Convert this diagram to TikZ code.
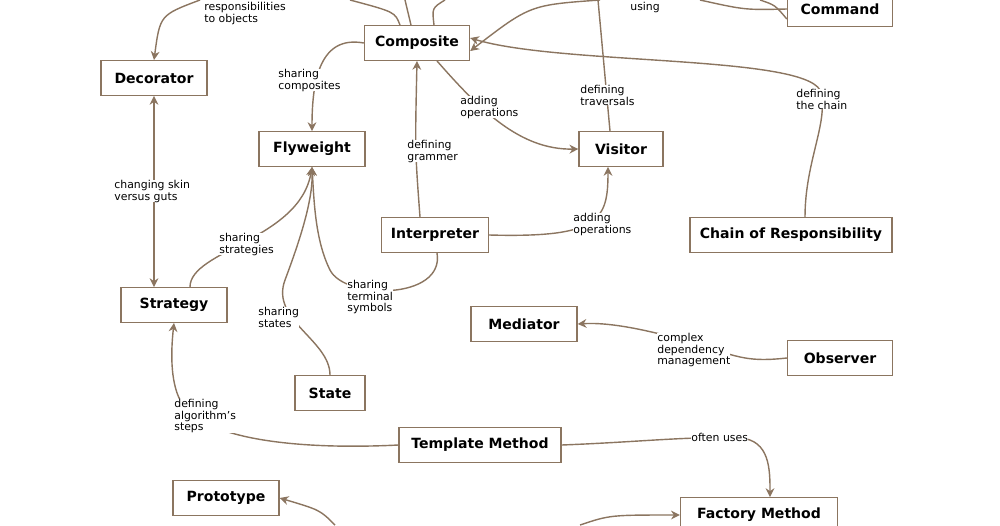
\documentclass[tikz,border=0pt]{standalone}
\usepackage{fontspec}
\setmainfont{DejaVu Sans}
\usetikzlibrary{arrows.meta}
\definecolor{edge}{HTML}{8B7560}
\begin{document}
\begin{tikzpicture}[x=0.02cm,y=-0.02cm,
  pat/.style={draw=edge,thick,fill=white,font=\fontsize{8}{9}\selectfont\bfseries,minimum height=0.69cm,inner sep=0pt},
  lab/.style={font=\fontsize{6.2}{6.6}\selectfont,align=left,anchor=north west,inner sep=0pt},
  con/.style={draw=edge,thick,-{Stealth[length=5pt,width=5pt]}},
  lin/.style={draw=edge,thick}]
\useasboundingbox (0,0) rectangle (1000,525);
% patterns
\node[pat,minimum width=2.1cm] (command) at (840,9) {Command};
\node[pat,minimum width=2.1cm] (composite) at (417,43) {Composite};
\node[pat,minimum width=2.12cm] (decorator) at (154,78) {Decorator};
\node[pat,minimum width=2.12cm] (flyweight) at (312,149) {Flyweight};
\node[pat,minimum width=1.68cm] (visitor) at (621,149) {Visitor};
\node[pat,minimum width=2.14cm] (interpreter) at (435,235) {Interpreter};
\node[pat,minimum width=4.04cm] (chain) at (791,235) {Chain of Responsibility};
\node[pat,minimum width=2.12cm] (strategy) at (174,305) {Strategy};
\node[pat,minimum width=2.12cm] (mediator) at (524,324) {Mediator};
\node[pat,minimum width=2.1cm] (observer) at (840,358) {Observer};
\node[pat,minimum width=1.4cm] (state) at (330,393) {State};
\node[pat,minimum width=3.24cm] (template) at (480,445) {Template Method};
\node[pat,minimum width=2.12cm] (prototype) at (226,498) {Prototype};
\node[pat,minimum width=3.14cm] (factory) at (759,515) {Factory Method};
% free ends at the cut edges
\coordinate (t1) at (200,0);
\coordinate (t2) at (350,0);
\coordinate (t3) at (405,0);
\coordinate (t4) at (445,0);
\coordinate (t5) at (600,0);
\coordinate (t6) at (598,0);
\coordinate (t7) at (700,0);
\coordinate (t8) at (760,0);
\coordinate (b1) at (335,525);
\coordinate (b2) at (580,525);
% connectors
\draw[con] (t1) .. controls (160,15) .. (decorator.north);
\draw[lin] (composite.north -| 400,0) .. controls (395,12) .. (t2);
\draw[lin] (composite.north -| 411,0) -- (t3);
\draw[lin] (composite.north -| 434,0) .. controls (432,8) .. (t4);
\draw[con] (t5) .. controls (530,5) .. ([yshift=-0.16cm]composite.east);
\draw[lin] (command.west) .. controls (745,10) .. (t7);
\draw[lin] ([yshift=-0.2cm]command.west) .. controls (775,5) .. (t8);
\draw[lin] (visitor.north -| 610,0) -- (t6);
\draw[con] (chain.north -| 805,0) .. controls (805,160) and (830,120) .. (820,90)
  .. controls (800,55) and (560,65) .. ([yshift=0.1cm]composite.east);
\draw[con] (composite.south -| 437,0) .. controls (480,110) and (520,150) .. (visitor.west);
\draw[con] (composite.west) .. controls (320,35) and (312,80) .. (flyweight.north);
\draw[con] (interpreter.north -| 420,0) .. controls (415,150) .. (composite.south);
\draw[con] (interpreter.east) .. controls (600,238) and (608,220) .. (visitor.south -| 608,0);
\draw[con] (interpreter.south -| 437,0) .. controls (445,300) and (345,300) .. (330,270)
  .. controls (315,240) and (314,200) .. (flyweight.south);
\draw[con] (strategy.north -| 190,0) .. controls (190,250) and (300,240) .. (flyweight.south);
\draw[con] (state.north) .. controls (330,340) and (270,320) .. (285,280)
  .. controls (300,240) and (313,200) .. (flyweight.south);
\draw[con,{Stealth[length=5pt,width=5pt]}-{Stealth[length=5pt,width=5pt]}] (decorator.south) -- (strategy.north -| decorator.south);
\draw[con] (template.west) .. controls (300,450) and (200,440) .. (180,400)
  .. controls (170,380) and (171,350) .. (strategy.south);
\draw[con] (template.east) .. controls (640,442) and (690,436) .. (740,438)
  .. controls (770,440) and (770,470) .. (factory.north -| 770,0);
\draw[con] (observer.west) .. controls (750,362) and (740,358) .. (700,345)
  .. controls (650,330) and (610,322) .. (mediator.east);
\draw[con] (b1) .. controls (320,510) .. (prototype.east);
\draw[con] (b2) .. controls (610,515) .. (factory.west);
% labels
\node[lab] (l1) at (204,2) {responsibilities\\to objects};
\node[lab,anchor=north west,fill=white] (l2) at (630,2) {using};
\node[lab,fill=white] (l3) at (796,89) {defining\\the chain};
\node[lab,fill=white] (l4) at (580,85) {defining\\traversals};
\node[lab,fill=white] (l5) at (460,96) {adding\\operations};
\node[lab,fill=white] (l6) at (278,69) {sharing\\composites};
\node[lab,fill=white] (l7) at (407,140) {defining\\grammer};
\node[lab,fill=white] (l8) at (573,213) {adding\\operations};
\node[lab,fill=white] (l9) at (347,280) {sharing\\terminal\\symbols};
\node[lab,fill=white] (l10) at (219,233) {sharing\\strategies};
\node[lab,fill=white] (l11) at (258,307) {sharing\\states};
\node[lab,fill=white] (l12) at (114,180) {changing skin\\versus guts};
\node[lab,fill=white] (l13) at (174,399) {defining\\algorithm's\\steps};
\node[lab,fill=white] (l14) at (691,433) {often uses};
\node[lab,fill=white] (l15) at (657,333) {complex\\dependency\\management};
\end{tikzpicture}
\end{document}
